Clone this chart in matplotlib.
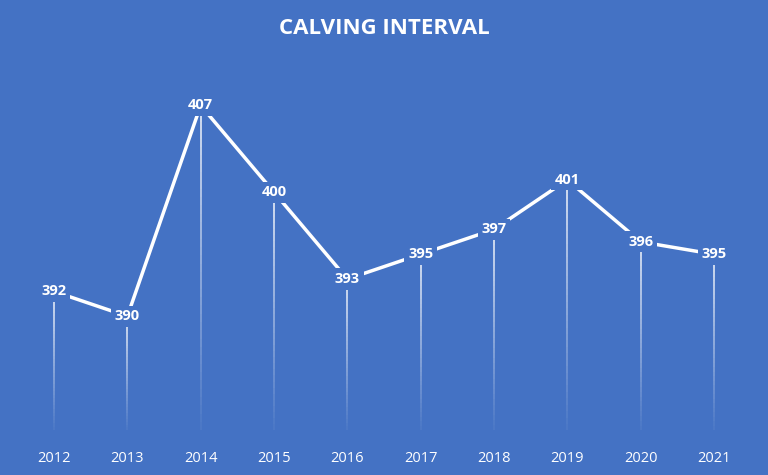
import numpy as np
import matplotlib.pyplot as plt
from matplotlib.collections import LineCollection

years = [2012, 2013, 2014, 2015, 2016, 2017, 2018, 2019, 2020, 2021]
values = [392, 390, 407, 400, 393, 395, 397, 401, 396, 395]

bg = '#4472C4'
plt.rcParams['font.family'] = ['Open Sans', 'DejaVu Sans']

fig = plt.figure(figsize=(7.68, 4.75), dpi=100, facecolor=bg)
ax = fig.add_axes([0, 0, 1, 1])
ax.set_facecolor(bg)
ax.set_xlim(2011.263, 2021.737)
ax.set_ylim(377.2, 415.5)
ax.axis('off')

# drop lines fading towards the bottom
base = 380.8
for x, v in zip(years, values):
    ys = np.linspace(base, v, 40)
    segs = [[(x, ys[i]), (x, ys[i + 1])] for i in range(len(ys) - 1)]
    alphas = np.linspace(0.05, 0.9, len(segs))
    cols = [(1, 1, 1, a) for a in alphas]
    ax.add_collection(LineCollection(segs, colors=cols, linewidths=1.2))

ax.plot(years, values, color='white', lw=2.5, solid_capstyle='round')

for x, v in zip(years, values):
    ax.text(x, v, str(v), color='white', fontsize=10.5, fontweight='bold',
            ha='center', va='center',
            bbox=dict(boxstyle='square,pad=0.25', fc=bg, ec='none'))
    ax.text(x, 378.5, str(x), color='white', fontsize=10.5, ha='center', va='center')

fig.text(0.5, 0.94, 'CALVING INTERVAL', color='white', fontsize=16,
         fontweight='bold', ha='center', va='center')

fig.savefig('out.png', dpi=100, facecolor=bg)
